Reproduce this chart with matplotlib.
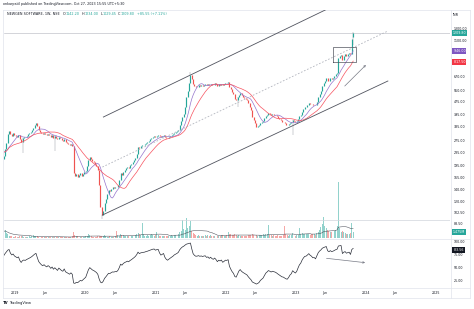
import numpy as np
import pandas as pd
import matplotlib
matplotlib.use("Agg")
import matplotlib.pyplot as plt
from matplotlib.lines import Line2D
from matplotlib.ticker import NullLocator

# weekly closes (NSE: NEWGEN, 1W), Nov 2018 .. Oct 2023, one row per month
warmup_closes = [240, 250, 236, 246, 231, 238, 226, 228]   # Sep-Oct 2018, left of the view
closes = [
    222, 245, 268, 300, 316,          # 2018 Nov
    300, 292, 305, 296,               # Dec
    292, 288, 296, 280,               # 2019 Jan
    270, 285, 290, 288,
    295, 300, 306, 312, 320,
    330, 342, 351, 336,
    320, 312, 305, 300, 306,
    300, 296, 302, 298,
    290, 296, 286, 292,
    286, 280, 289, 284, 278,
    275, 283, 270, 266,
    262, 258, 262, 255,
    176, 170, 174, 168, 172,
    176, 170, 174, 178,
    182, 195, 210, 220, 214,          # 2020 Jan
    208, 205, 200, 195,
    185, 150, 110, 99,
    105, 117, 124, 132,
    140, 138, 142, 145, 144,
    146, 145, 150, 160,
    176, 172, 180, 185, 188,
    192, 190, 196, 200,
    205, 211, 218, 230,
    252, 248, 255, 258, 260,
    262, 267, 270, 275,
    280, 285, 290, 292,
    290, 295, 298, 292, 288,          # 2021 Jan
    292, 297, 290, 286,
    284, 288, 292, 296,
    300, 306, 310, 314, 320,
    340, 360, 382, 400,
    440, 503, 545, 610,
    681, 640, 600, 585, 577,
    580, 590, 585, 592,
    588, 596, 600, 590,
    598, 589, 604, 596, 592,
    606, 598, 586, 600,
    596, 604, 592, 600, 610,
    609, 615, 580, 560,               # 2022 Jan
    540, 525, 490, 482,
    500, 520, 531, 515,
    505, 497, 490, 480, 460,
    440, 420, 380, 366,
    350, 332, 335, 340,
    350, 356, 362, 375, 388,
    395, 403, 398, 392,
    396, 393, 390, 385, 378,
    372, 365, 358, 356,
    350, 343, 340, 345,
    352, 356, 366, 360, 355,
    360, 372, 385, 393,               # 2023 Jan
    410, 425, 438, 440,
    450, 463, 458, 455, 450,
    452, 448, 470, 500,
    525, 545, 585, 609,
    630, 650, 630, 625, 650,
    645, 655, 670, 690,
    700, 855, 880, 900,
    835, 880, 905, 890, 910,
    925, 905, 1124.25, 1209.80,
]
first_open = 215
last_open = 1142.20

# volume in millions
volumes = [
    1.6, 1.9, 1.3, 0.9, 0.6,
    0.5, 0.4, 0.35, 0.3,
    0.4, 0.3, 0.35, 0.5,
    0.6, 0.4, 0.3, 0.3,
    0.3, 0.35, 0.4, 0.3, 0.45,
    0.7, 0.5, 0.6, 0.4,
    0.3, 0.3, 0.35, 0.25, 0.3,
    0.25, 0.3, 0.2, 0.25,
    0.3, 0.25, 0.3, 0.2,
    0.3, 0.25, 0.2, 0.25, 0.3,
    0.2, 0.3, 0.25, 0.2,
    0.25, 0.2, 0.3, 0.4,
    1.5, 0.8, 0.5, 0.4, 0.3,
    0.3, 0.25, 0.3, 0.35,
    0.4, 0.6, 0.9, 0.7, 0.5,
    0.3, 0.3, 0.25, 0.3,
    0.4, 0.5, 0.6, 0.5,
    0.5, 0.7, 0.4, 0.3,
    0.3, 0.4, 0.3, 0.3, 0.35,
    0.5, 1.7, 0.8, 0.6,
    1.1, 0.7, 0.8, 0.6, 0.5,
    0.5, 0.6, 0.4, 0.5,
    0.5, 0.6, 0.8, 1.0,
    1.2, 1.0, 0.8, 3.7, 0.9,
    0.6, 0.5, 0.7, 0.6,
    0.8, 1.0, 0.7, 0.6,
    0.8, 1.5, 0.7, 0.6, 0.5,
    0.5, 0.6, 0.5, 0.4,
    0.5, 0.6, 0.5, 0.7,
    0.6, 0.7, 0.8, 0.7, 0.9,
    1.4, 1.8, 4.5, 2.2,
    2.0, 4.8, 2.5, 3.0,
    4.2, 1.8, 1.2, 0.9, 0.7,
    0.6, 0.7, 0.5, 0.6,
    0.5, 0.6, 0.7, 0.5,
    0.7, 0.6, 0.8, 0.6, 0.5,
    0.6, 0.5, 0.6, 0.5,
    0.6, 0.7, 0.8, 0.6, 0.5,
    0.7, 1.5, 1.0, 0.9,
    0.7, 0.8, 1.0, 0.7,
    0.6, 0.7, 0.6, 0.5,
    0.6, 0.5, 0.6, 0.5, 0.7,
    0.8, 0.7, 0.9, 0.8,
    0.7, 0.8, 0.6, 0.7,
    0.8, 0.7, 1.0, 0.8, 0.9,
    1.0, 3.2, 0.8, 0.7,
    0.6, 0.7, 0.6, 0.6, 0.7,
    0.6, 0.5, 0.6, 0.7,
    3.0, 1.0, 0.7, 0.6,
    0.7, 0.8, 1.3, 0.8, 0.6,
    0.7, 0.8, 2.5, 1.0,
    1.2, 1.0, 0.9, 0.9,
    1.0, 0.9, 0.8, 0.9, 1.0,
    0.9, 0.8, 1.2, 1.5,
    2.0, 2.8, 3.5, 5.2,
    3.0, 2.4, 2.0, 1.6, 1.4,
    1.5, 1.2, 1.8, 2.0,
    3.0, 13.8, 2.5, 1.5,
    1.8, 1.4, 1.2, 1.0, 1.1,
    1.0, 1.2, 3.7, 1.475,
]

# visible wicks (date, price)
wick_dates = ["2019-02-08", "2019-07-26", "2020-03-27", "2021-07-02",
              "2022-03-04", "2022-12-16", "2023-10-27", "2023-10-27"]
wick_prices = [232, 240, 94, 705, 437, 297, 1234.00, 1029.45]

# drawings (date as decimal year, price)
upper_channel = [(2020.257, 381.5), (2023.471, 1705)]
lower_channel = [(2020.243, 98.9), (2024.314, 626.5)]
mid_channel = [(2020.243, 191.6), (2024.314, 1247)]
box = (2023.529, 2023.857, 814, 1000)
price_arrow = [(2023.671, 569), (2024.029, 803)]
rsi_arrow = [(2023.40, 68.4), (2024.029, 58.6)]
hline_level = 92.3

price_ticks = [1300, 1100, 670, 550, 475, 395, 335, 275, 235, 195, 165, 140, 120, 102.5, 88.5]
rsi_ticks = [25, 50, 75, 100]
time_ticks = ["2019-01-01", "2019-06-01", "2020-01-01", "2020-06-01", "2021-01-01",
              "2021-06-01", "2022-01-01", "2022-06-01", "2023-01-01", "2023-06-01",
              "2024-01-01", "2024-06-01", "2025-01-01"]
time_labels = ["2019", "Jun", "2020", "Jun", "2021", "Jun", "2022", "Jun",
               "2023", "Jun", "2024", "Jun", "2025"]
legend_parts = [("NEWGEN SOFTWARE, 1W, NSE", "dark", 0), ("O", "dark", 2.2), ("1142.20", "up", 0),
                ("H", "dark", 1.6), ("1234.00", "up", 0), ("L", "dark", 1.6), ("1029.45", "up", 0),
                ("C", "dark", 1.6), ("1209.80", "up", 0), ("+85.55 (+7.11%)", "up", 1.6)]

UP, DOWN = "#26a69a", "#ef5350"
TXT = "#131722"
SEP = "#e0e3eb"


def dec_year(d):
    d = pd.Timestamp(d)
    return d.year + (d.dayofyear - 1) / (366 if d.is_leap_year else 365)


all_closes = np.array(warmup_closes + closes, dtype=float)
all_dates = pd.date_range(end="2023-10-27", periods=len(all_closes), freq="W-FRI")
all_x = np.array([dec_year(d) for d in all_dates])
nw = len(warmup_closes)

c = np.array(closes, dtype=float)
o = np.r_[first_open, c[:-1]]
o[-1] = last_open
x = all_x[nw:]
vol = np.array(volumes, dtype=float)

s = pd.Series(all_closes)
ma10 = s.rolling(10, min_periods=1).mean().values[nw:]
ma20 = s.rolling(20, min_periods=1).mean().values[nw:]
delta = s.diff()
gain = delta.clip(lower=0).ewm(alpha=1 / 14, adjust=False).mean()
loss = (-delta.clip(upper=0)).ewm(alpha=1 / 14, adjust=False).mean()
rsi = (100 - 100 / (1 + gain / loss)).values[nw:]
vol_ma = pd.Series(vol).rolling(20, min_periods=1).mean().values

W, H = 474, 309
fig = plt.figure(figsize=(W / 100, H / 100), dpi=100)
fig.patch.set_facecolor("white")


def frac(x0, y0, x1, y1):
    return [x0 / W, 1 - y1 / H, (x1 - x0) / W, (y1 - y0) / H]


def fline(x0, y0, x1, y1, **kw):
    fig.add_artist(Line2D([x0 / W, x1 / W], [1 - y0 / H, 1 - y1 / H],
                          transform=fig.transFigure, **kw))


ax = fig.add_axes(frac(4, 10, 450, 238))
axv = ax.twinx()
rax = fig.add_axes(frac(4, 239, 450, 287), sharex=ax)
ax.set_zorder(2)
axv.set_zorder(1)
ax.patch.set_visible(False)

xmin, xmax = 2018.84, 2025.2

# volume
up = c >= o
axv.bar(x, vol, width=5 / 365, color=np.where(up, UP, DOWN), alpha=0.5, linewidth=0)
axv.plot(x, vol_ma, color="#434651", lw=0.35)
axv.set_ylim(0, 56)
axv.set_yticks([])
for sp in axv.spines.values():
    sp.set_visible(False)

# price
ax.set_yscale("log")
ax.set_ylim(72.1, 1666)
ax.set_xlim(xmin, xmax)
wx = [dec_year(d) for d in wick_dates]
ax.vlines(wx, wick_prices, [c[np.argmin(abs(x - w))] for w in wx],
          color="#8a8f99", lw=0.3, zorder=2)
ax.vlines(x, np.minimum(o, c), np.maximum(o, c), colors=np.where(up, UP, DOWN),
          lw=0.85, zorder=3)
ax.plot(x, ma10, color="#9575cd", lw=0.5, zorder=4)
ax.plot(x, ma20, color="#f7525f", lw=0.5, zorder=4)

ax.axhline(1209.80, color="#b2b5be", lw=0.4, zorder=1)
ax.axhline(hline_level, color="#d1d4dc", lw=0.5, zorder=1)
for p, q in [upper_channel, lower_channel]:
    ax.plot([p[0], q[0]], [p[1], q[1]], color="#50535e", lw=0.6, zorder=5)
ax.plot([mid_channel[0][0], mid_channel[1][0]], [mid_channel[0][1], mid_channel[1][1]],
        color="#b2b5be", lw=0.6, ls=(0, (2, 2)), zorder=5)
bx0, bx1, by0, by1 = box
ax.plot([bx0, bx1, bx1, bx0, bx0], [by0, by0, by1, by1, by0], color="#50535e", lw=0.5, zorder=5)
ax.annotate("", xy=price_arrow[1], xytext=price_arrow[0],
            arrowprops=dict(arrowstyle="->", color="#787b86", lw=0.5, mutation_scale=3))

ax.yaxis.tick_right()
ax.set_yticks(price_ticks)
ax.set_yticklabels([f"{v:.2f}" for v in price_ticks])
ax.yaxis.set_minor_locator(NullLocator())
ax.tick_params(axis="y", length=0, pad=3, labelsize=2.3, labelcolor=TXT)
ax.tick_params(axis="x", length=0, labelbottom=False)
for sp in ax.spines.values():
    sp.set_visible(False)

blend = ax.get_yaxis_transform()
tag = dict(fontsize=2.3, color="white", ha="left", va="center", clip_on=False, zorder=10)
ax.text(1.006, 1209.80, "1209.80", transform=blend,
        bbox=dict(boxstyle="square,pad=0.3", fc=UP, ec="none"), **tag)
ax.text(1.006, 946.00, " 946.00", transform=blend,
        bbox=dict(boxstyle="square,pad=0.3", fc="#7e57c2", ec="none"), **tag)
ax.text(1.006, 817.50, " 817.50", transform=blend,
        bbox=dict(boxstyle="square,pad=0.3", fc="#f23645", ec="none"), **tag)
axv.text(1.006, 1.475, "1.475M", transform=axv.get_yaxis_transform(),
         bbox=dict(boxstyle="square,pad=0.3", fc=UP, ec="none"), **tag)

# RSI
rax.plot(x, rsi, color="#2a2e39", lw=0.5)
rax.annotate("", xy=rsi_arrow[1], xytext=rsi_arrow[0],
             arrowprops=dict(arrowstyle="->", color="#787b86", lw=0.5, mutation_scale=3))
rax.set_ylim(11.2, 105.9)
rax.set_xlim(xmin, xmax)
rax.yaxis.tick_right()
rax.set_yticks(rsi_ticks)
rax.set_yticklabels([f"{v:.2f}" for v in rsi_ticks])
rax.tick_params(axis="y", length=0, pad=3, labelsize=2.3, labelcolor=TXT)
rax.set_xticks([dec_year(d) for d in time_ticks])
rax.set_xticklabels(time_labels)
rax.tick_params(axis="x", length=0, pad=2.6, labelsize=2.3, labelcolor=TXT)
for sp in rax.spines.values():
    sp.set_visible(False)
rax.text(1.006, 83.56, " 83.56 ", transform=rax.get_yaxis_transform(),
         bbox=dict(boxstyle="square,pad=0.3", fc="#131722", ec="none"), **tag)

# panel frame
for args in [(3, 9.5, 470, 9.5), (3, 238.5, 470, 238.5), (3, 287.5, 470, 287.5),
             (3, 297.5, 470, 297.5), (3, 9.5, 3, 297.5), (450.5, 9.5, 450.5, 297.5),
             (470, 9.5, 470, 297.5)]:
    fline(*args, color=SEP, lw=0.5)

# header and legend
fig.text(3 / W, 1 - 3.5 / H, "onkarpatil published on TradingView.com, Oct 27, 2023 15:55 UTC+5:30",
         fontsize=2.45, color=TXT, va="center")
prev = None
for txt, col, gap in legend_parts:
    colr = TXT if col == "dark" else UP
    if prev is None:
        prev = fig.text(7 / W, 1 - 14 / H, txt, fontsize=2.45, color=colr, va="center")
    else:
        prev = ax.annotate(txt, xy=(1, 0.5), xycoords=prev, xytext=(gap, 0),
                           textcoords="offset points", fontsize=2.45, color=colr,
                           va="center", ha="left", annotation_clip=False)
fig.text(453 / W, 1 - 14.5 / H, "INR", fontsize=2.4, color=TXT, va="center")

# footer
fig.text(3 / W, 1 - 303 / H, "TV", fontsize=2.8, color=TXT, weight="bold", va="center")
fig.text(9.5 / W, 1 - 303 / H, "TradingView", fontsize=2.6, color=TXT, va="center")

fig.savefig("out.png", dpi=100, facecolor="white")
